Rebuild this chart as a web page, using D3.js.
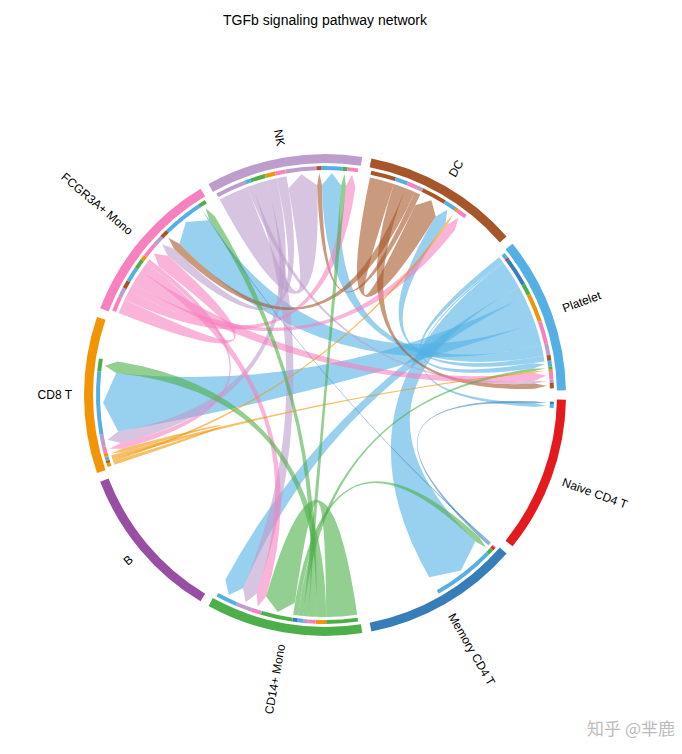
<!DOCTYPE html>
<html><head><meta charset="utf-8">
<script src="https://cdn.jsdelivr.net/npm/d3@7"></script>
<style>body{margin:0;background:#fff}</style></head>
<body><svg id="c" width="682" height="754"></svg>
<script>
const groups = ["NK","DC","Platelet","Naive CD4 T","Memory CD4 T","CD14+ Mono","B","CD8 T","FCGR3A+ Mono"];
const colors = ["#BC9DCC","#A65628","#54B0E4","#E41A1C","#377EB8","#4DAF4A","#984EA3","#F29403","#F781BF"];
// links: [source, target, weight]
const links = [
 ["Platelet","CD8 T",5],["Platelet","FCGR3A+ Mono",4],["Platelet","Memory CD4 T",5],["Platelet","CD14+ Mono",2],
 ["Platelet","NK",2],["Platelet","DC",1],["Platelet","Platelet",1],["Platelet","Naive CD4 T",0.3],
 ["NK","NK",3],["NK","CD14+ Mono",1.5],["NK","FCGR3A+ Mono",1],["NK","CD8 T",1],["NK","Platelet",0.5],
 ["DC","DC",2],["DC","FCGR3A+ Mono",0.8],["DC","Platelet",1],["DC","NK",0.5],
 ["FCGR3A+ Mono","Platelet",1.5],["FCGR3A+ Mono","CD14+ Mono",1],["FCGR3A+ Mono","NK",1],["FCGR3A+ Mono","FCGR3A+ Mono",1.5],["FCGR3A+ Mono","DC",0.8],["FCGR3A+ Mono","CD8 T",0.5],
 ["CD14+ Mono","CD14+ Mono",3],["CD14+ Mono","NK",0.5],["CD14+ Mono","FCGR3A+ Mono",0.7],["CD14+ Mono","CD8 T",1],["CD14+ Mono","Platelet",0.5],["CD14+ Mono","Memory CD4 T",0.5],
 ["CD8 T","Platelet",0.3],["CD8 T","CD8 T",0.3],["CD8 T","DC",0.2],
 ["Memory CD4 T","FCGR3A+ Mono",0.1],["Memory CD4 T","Naive CD4 T",0.2]
];
const title = "TGFb signaling pathway network";

const svg = d3.select("#c");
const cx=325, cy=395, R0=232, R1=241, Ri=222;
const deg = Math.PI/180, start0 = 330, span = 40, gap = 2.2;
const col = d3.scaleOrdinal(groups, colors);
svg.append("text").attr("x",325).attr("y",25).attr("text-anchor","middle")
  .attr("font-family","Liberation Sans, Arial").attr("font-size",14).text(title);
const g = svg.append("g").attr("transform",`translate(${cx},${cy})`);
const sec = groups.map((n,i)=>({name:n, a0:(start0+i*span+gap/2)*deg, a1:(start0+(i+1)*span-gap/2)*deg}));
// allocate positions
const ends = groups.map(()=>[]);
links.forEach((l,k)=>{
  const si=groups.indexOf(l[0]), ti=groups.indexOf(l[1]);
  ends[si].push({k,type:"out",w:l[2],other:ti});
  ends[ti].push({k,type:"in",w:l[2],other:si});
});
const pos = {};
ends.forEach((arr,i)=>{
  arr.sort((a,b)=> (a.type===b.type? ((a.other-i+9)%9)-((b.other-i+9)%9) : (a.type==="out"?-1:1)));
  const tot=d3.sum(arr,d=>d.w); if(!tot) return;
  const len = sec[i].a1-sec[i].a0-0.02;
  const s = Math.min(len/tot, 3.2*deg);
  let a = sec[i].a0+0.01;
  arr.forEach(d=>{ const b=a+d.w*s; pos[d.k+d.type]={a0:a,a1:b,other:d.other}; a=b;});
});
// sectors
g.selectAll("path.sec").data(sec).join("path")
  .attr("d",d3.arc().innerRadius(R0).outerRadius(R1).startAngle(d=>d.a0).endAngle(d=>d.a1))
  .attr("fill",d=>col(d.name));
// inner track
const tr = Object.values(pos);
g.selectAll("path.tr").data(tr).join("path")
  .attr("d",d3.arc().innerRadius(Ri+3).outerRadius(Ri+7).startAngle(d=>d.a0).endAngle(d=>d.a1))
  .attr("fill",d=>colors[d.other]);
// ribbons
const rib = d3.ribbonArrow().radius(Ri).headRadius(12);
g.selectAll("path.rib").data(links.map((l,k)=>({l,k}))).join("path")
  .attr("d",d=>rib({source:{startAngle:pos[d.k+"out"].a0,endAngle:pos[d.k+"out"].a1},
                    target:{startAngle:pos[d.k+"in"].a0,endAngle:pos[d.k+"in"].a1}}))
  .attr("fill",d=>col(d.l[0])).attr("fill-opacity",0.6);
// labels
sec.forEach(s=>{
  const m=(s.a0+s.a1)/2, md=m/deg%360, r=253;
  const x=r*Math.sin(m), y=-r*Math.cos(m);
  const right = md<180;
  g.append("text").attr("x",x).attr("y",y).attr("dy","0.35em")
   .attr("transform",`rotate(${right?md-90:md+90},${x},${y})`)
   .attr("text-anchor",right?"start":"end")
   .attr("font-family","Liberation Sans, Arial").attr("font-size",12).text(s.name);
});
svg.append("text").attr("x",675).attr("y",735).attr("text-anchor","end").attr("fill","#bbb")
  .attr("font-family","Noto Sans CJK SC").attr("font-size",17).text("知乎 @芈鹿");
</script></body></html>
